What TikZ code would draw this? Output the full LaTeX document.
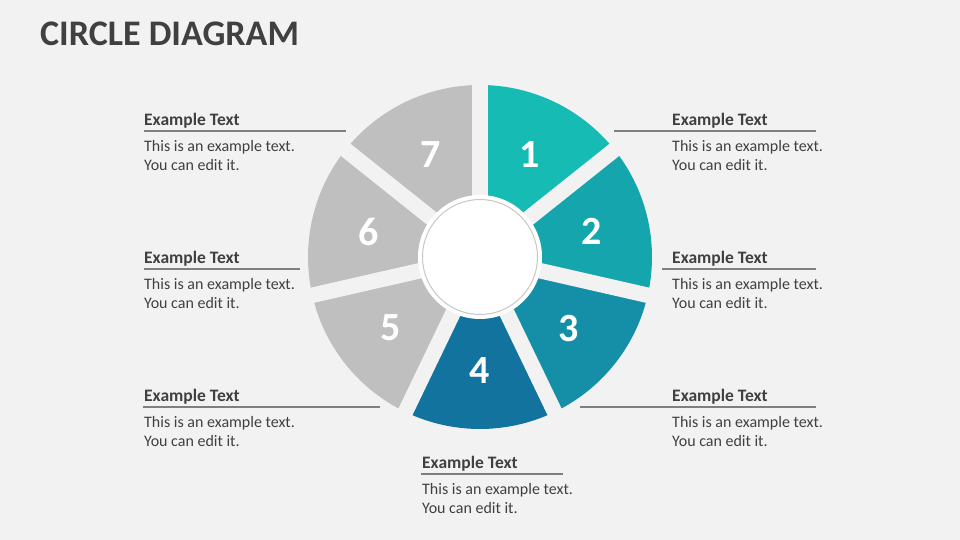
\documentclass[tikz,border=0pt]{standalone}
\usepackage{fontspec}
\setmainfont{Carlito}
\usepackage{tikz}
\usetikzlibrary{positioning}
\definecolor{bgcol}{HTML}{F2F2F2}
\definecolor{textcol}{HTML}{404040}
\definecolor{rulecol}{HTML}{7F7F7F}
\definecolor{segA}{HTML}{16BCB4}
\definecolor{segB}{HTML}{14A5AD}
\definecolor{segC}{HTML}{158FA7}
\definecolor{segD}{HTML}{12739F}
\definecolor{segE}{HTML}{BFBFBF}
\pgfdeclareradialshading{ring shadow}{\pgfpoint{0bp}{0bp}}{%
  color(0bp)=(white); color(42bp)=(white); color(50bp)=(black!16)}
\tikzset{title style/.style = {%
  anchor = base west,
  inner sep = 0pt,
  text = textcol,
  font = \fontsize{36}{40}\selectfont\bfseries
 },
 heading style/.style = {
  anchor = base west,
  inner sep = 0pt,
  text = textcol,
  font = \fontsize{17.5}{19}\selectfont\bfseries
 },
 body style/.style = {
  anchor = base west,
  inner sep = 0pt,
  align = left,
  text = textcol,
  font = \fontsize{16}{19}\selectfont
 },
 number style/.style = {
  inner sep = 0pt,
  text = white,
  font = \fontsize{40}{42}\selectfont\bfseries
 },
 rule style/.style = {
  draw = rulecol,
  line width = 1.6pt
 },
 gap style/.style = {
  draw = bgcol,
  line width = 15.5pt
 }
}

\begin{document}
\begin{tikzpicture}[x=1pt,y=1pt]
  \fill[bgcol] (0,0) rectangle (960,540);
  \node[title style] (title) at (40,494) {CIRCLE DIAGRAM};

  \coordinate (centre) at (480,283);
  \foreach \col [count=\i] in {segA,segB,segC,segD,segE,segE,segE}{
    \pgfmathsetmacro\a{90-(\i-1)*360/7}
    \pgfmathsetmacro\b{\a-360/7}
    \fill[\col] (centre) -- ++(\a:172) arc[start angle=\a, end angle=\b, radius=172] -- cycle;
  }
  \foreach \i in {0,...,6}{
    \draw[gap style] (centre) -- ++({90-\i*360/7}:180);
  }
  \foreach \i in {1,...,7}{
    \pgfmathsetmacro\m{90-(\i-0.5)*360/7}
    \node[number style] (num\i) at ([shift={(\m:114)}]centre) {\i};
  }

  \fill[white] (centre) circle[radius=62];
  \shade[shading=ring shadow] (centre) circle[radius=57.5];
  \draw[black!22, line width=1pt] (centre) circle[radius=57.5];

  % text blocks: x, rule y, rule start, rule end
  \foreach \x/\y/\s/\e [count=\k] in {672/409/614/816, 672/271/662/816, 672/133/580/816,
      422/66/421/563, 144/133/143/380, 144/271/144/300, 144/409/144/346}{
    \coordinate (rs\k) at (\s,\y);
    \coordinate (re\k) at (\e,\y);
    \draw[rule style] (rs\k) -- (re\k);
    \node[heading style] (head\k) at (\x,\y+5) {Example Text};
    \node[body style] (body\k) at (\x,\y-39.5) {This is an example text.\\You can edit it.};
  }
\end{tikzpicture}
\end{document}
